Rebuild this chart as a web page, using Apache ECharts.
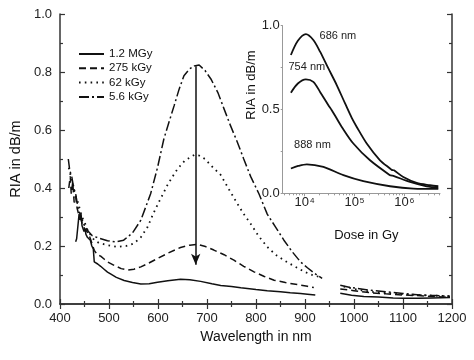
<!DOCTYPE html>
<html><head><meta charset="utf-8">
<script src="https://cdn.jsdelivr.net/npm/echarts@6/dist/echarts.min.js"></script>
<style>html,body{margin:0;padding:0;background:#fff}#c{width:474px;height:360px}</style>
</head><body><div id="c"></div>
<script>
// ---- Main chart data (wavelength in nm, RIA in dB/m); null = gap in spectrum ----
var seriesNames = ['1.2 MGy', '275 kGy', '62 kGy', '5.6 kGy'];

var wl_12MGy = [432,434,437,439,441,443,445,447,449,451,453,456,459,462,465,468,470,473,477,483,490,497,504,515,531,548,565,582,599,620,646,665,687,710,728,750,769,800,823,850,870,891,905,921,945,972,995,1020,1050,1080,1101,1130,1160,1196];
var ria_12MGy = [0.215,0.225,0.23,0.31,0.29,0.31,0.27,0.26,0.25,0.26,0.24,0.23,0.225,0.22,0.2,0.19,0.145,0.14,0.138,0.13,0.12,0.11,0.103,0.092,0.081,0.074,0.069,0.07,0.075,0.08,0.085,0.084,0.078,0.07,0.064,0.06,0.056,0.05,0.046,0.042,0.039,0.036,0.034,0.031,null,0.037,0.03,0.026,0.024,0.021,0.02,0.02,0.021,0.022];

var wl_275kGy = [418,421,423,426,429,432,435,438,441,445,450,455,460,465,470,476,483,490,497,511,525,538,551,565,580,599,620,646,665,681,697,714,735,755,775,796,817,837,860,891,905,918,945,972,1000,1033,1065,1101,1130,1160,1196];
var ria_275kGy = [0.40,0.44,0.38,0.42,0.35,0.37,0.33,0.31,0.30,0.28,0.26,0.25,0.235,0.21,0.185,0.17,0.165,0.155,0.145,0.133,0.122,0.117,0.12,0.128,0.14,0.157,0.175,0.195,0.203,0.206,0.198,0.186,0.17,0.151,0.13,0.111,0.095,0.082,0.074,0.065,0.061,0.057,null,0.052,0.046,0.039,0.035,0.031,0.029,0.026,0.023];

var wl_62kGy = [418,422,426,430,435,440,445,450,455,460,470,480,497,517,535,551,565,579,590,602,619,630,640,655,674,684,696,708,728,745,762,775,789,805,823,840,857,870,884,900,915,932,950,979,1005,1033,1065,1101,1130,1160,1196];
var ria_62kGy = [0.47,0.44,0.42,0.38,0.36,0.33,0.30,0.283,0.26,0.245,0.22,0.21,0.203,0.197,0.2,0.209,0.23,0.266,0.31,0.352,0.409,0.44,0.466,0.495,0.514,0.512,0.5,0.478,0.445,0.395,0.346,0.31,0.277,0.235,0.197,0.17,0.151,0.138,0.125,0.11,0.1,0.092,null,0.06,0.05,0.042,0.038,0.034,0.031,0.029,0.027];

var wl_56kGy = [417,420,424,428,432,437,443,450,458,466,480,497,514,530,548,565,585,599,612,623,633,643,653,664,674,684,696,708,722,735,748,762,775,789,806,823,840,857,874,891,905,920,935,952,972,990,1006,1035,1067,1100,1135,1165,1196];
var ria_56kGy = [0.50,0.46,0.44,0.40,0.38,0.33,0.30,0.27,0.25,0.235,0.227,0.218,0.214,0.22,0.245,0.289,0.38,0.47,0.569,0.63,0.684,0.74,0.787,0.81,0.821,0.824,0.805,0.776,0.73,0.672,0.615,0.558,0.5,0.44,0.38,0.31,0.265,0.22,0.18,0.145,0.125,0.105,0.088,null,0.065,0.058,0.054,0.047,0.042,0.036,0.031,0.029,0.027];

// Arrow marking the decrease of RIA with dose (from 5.6 kGy peak down)
var arrowWl = 677;
var arrowFrom = 0.82;
var arrowTo = 0.135;

// ---- Inset data (dose in Gy, RIA in dB/m) ----
var insetNames = ['686 nm', '754 nm', '888 nm'];
var dose_686 = [5370,7400,10700,15100,20600,30200,44400,65200,88700,111700,177000,326500,517600,560000,622000,955000,1770000,3270000,4790000];
var ria_686  = [0.825,0.91,0.95,0.915,0.845,0.745,0.646,0.536,0.45,0.396,0.297,0.197,0.148,0.14,0.137,0.097,0.062,0.048,0.042];
var dose_754 = [5370,7400,10700,15100,20600,30200,35300,44400,56000,95500,206000,517600,560000,622000,1300000,2800000,4790000];
var ria_754  = [0.60,0.655,0.68,0.665,0.605,0.526,0.496,0.446,0.396,0.297,0.197,0.108,0.106,0.103,0.068,0.042,0.034];
var dose_888 = [5370,7500,11200,24000,60300,151000,517600,1510000,4790000];
var ria_888  = [0.148,0.163,0.173,0.157,0.108,0.072,0.042,0.028,0.026];
// label anchor positions (dose, RIA) for inset curve labels
var insetLabelDose = [46800, 11200, 14500];
var insetLabelRia  = [0.94, 0.753, 0.287];

var insetDecades = [4, 5, 6];

function pairs(xs, ys) { return xs.map(function (x, i) { return [x, ys[i]]; }); }
function logPairs(xs, ys) { return xs.map(function (x, i) { return [Math.log10(x), ys[i]]; }); }

var insetMin = Math.log10(3680), insetMax = Math.log10(5180000);
var minorVals = [];
for (var d = 3; d <= 6; d++) for (var k = 2; k <= 9; k++) {
  var v = Math.log10(k * Math.pow(10, d));
  if (v > insetMin && v < insetMax) minorVals.push(v);
}

var ink = '#111';
var font = 'Liberation Sans, Arial, sans-serif';
var mainAxisLine = {show: true, lineStyle: {color: '#333', width: 1.5}};

var mainSeriesData = [pairs(wl_12MGy, ria_12MGy), pairs(wl_275kGy, ria_275kGy), pairs(wl_62kGy, ria_62kGy), pairs(wl_56kGy, ria_56kGy)];
var dashes = ['solid', [7, 4], [1.6, 4.2], [10, 3, 2, 3]];

var series = mainSeriesData.map(function (d, i) {
  var s = {
    name: seriesNames[i], type: 'line', xAxisIndex: 0, yAxisIndex: 0, data: d,
    symbol: 'none', connectNulls: false, silent: true,
    lineStyle: {color: ink, width: i === 2 ? 1.8 : 1.5, type: dashes[i]},
    itemStyle: {color: ink}
  };
  if (i === 3) {
    s.markLine = {
      silent: true, symbol: ['none', 'arrow'], symbolSize: [7, 11],
      label: {show: false},
      lineStyle: {color: ink, width: 1.5, type: 'solid'},
      data: [[{coord: [arrowWl, arrowFrom]}, {coord: [arrowWl, arrowTo]}]]
    };
  }
  return s;
});

var insetData = [logPairs(dose_686, ria_686), logPairs(dose_754, ria_754), logPairs(dose_888, ria_888)];
insetData.forEach(function (d, i) {
  series.push({
    name: insetNames[i], type: 'line', xAxisIndex: 2, yAxisIndex: 2, data: d,
    symbol: 'none', smooth: 0.3, silent: true,
    lineStyle: {color: ink, width: 1.8},
    markPoint: {
      symbol: 'circle', symbolSize: 0, silent: true,
      label: {show: true, position: 'inside', formatter: insetNames[i], color: '#222', fontSize: 11, fontFamily: font},
      data: [{coord: [Math.log10(insetLabelDose[i]), insetLabelRia[i]]}]
    }
  });
});

var chart = echarts.init(document.getElementById('c'), null, {renderer: 'canvas'});
chart.setOption({
  animation: false,
  backgroundColor: '#fff',
  textStyle: {fontFamily: font},
  grid: [
    {left: 59, right: 22, top: 14, bottom: 56},
    {left: 282.7, width: 157.3, top: 25.7, height: 167.6}
  ],
  legend: {
    data: seriesNames, orient: 'vertical', left: 78, top: 48, padding: 0,
    itemWidth: 25, itemHeight: 12, itemGap: 2.3,
    textStyle: {fontSize: 11.5, color: '#111', fontFamily: font},
    itemStyle: {opacity: 0}, selectedMode: false
  },
  xAxis: [
    {type: 'value', gridIndex: 0, position: 'bottom', min: 400, max: 1200, interval: 100,
      name: 'Wavelength in nm', nameLocation: 'middle', nameGap: 24,
      nameTextStyle: {fontSize: 14, color: '#111', fontFamily: font},
      axisLine: mainAxisLine, splitLine: {show: false},
      axisTick: {inside: true, length: 5, lineStyle: {color: '#333', width: 1.2}},
      minorTick: {show: true, splitNumber: 2, length: 3, lineStyle: {color: '#333', width: 1.2}},
      axisLabel: {fontSize: 13, color: '#222', margin: 8, fontFamily: font,
        formatter: function (v) { return String(Math.round(v)); }}},
    {type: 'value', gridIndex: 0, position: 'top', min: 400, max: 1200, interval: 100,
      axisLine: mainAxisLine, splitLine: {show: false},
      axisTick: {inside: true, length: 5, lineStyle: {color: '#333', width: 1.2}},
      minorTick: {show: true, splitNumber: 2, length: 3, lineStyle: {color: '#333', width: 1.2}},
      axisLabel: {show: false}},
    {type: 'value', gridIndex: 1, position: 'bottom', min: insetMin, max: insetMax,
      name: 'Dose in Gy', nameLocation: 'middle', nameGap: 36,
      nameTextStyle: {fontSize: 13, color: '#111', fontFamily: font, padding: [0, 0, 0, 10]},
      axisLine: {show: true, lineStyle: {color: '#999', width: 1}}, splitLine: {show: false},
      axisTick: {show: true, customValues: insetDecades, length: 3, lineStyle: {color: '#999'}},
      axisLabel: {customValues: insetDecades, margin: 3, color: '#222', fontFamily: font,
        formatter: function (v) { return '{b|10}{s|' + Math.round(v) + '}'; },
        rich: {b: {fontSize: 13, fontFamily: font, color: '#222'},
               s: {fontSize: 8, fontFamily: font, color: '#222', verticalAlign: 'top', padding: [0, 0, 0, 1]}}}},
    {type: 'value', gridIndex: 1, position: 'bottom', min: insetMin, max: insetMax,
      axisLine: {show: false}, splitLine: {show: false},
      axisTick: {show: true, customValues: minorVals, length: 2, lineStyle: {color: '#999'}},
      axisLabel: {show: false}}
  ],
  yAxis: [
    {type: 'value', gridIndex: 0, position: 'left', min: 0, max: 1, interval: 0.2,
      name: 'RIA in dB/m', nameLocation: 'middle', nameGap: 36,
      nameTextStyle: {fontSize: 14.5, color: '#111', fontFamily: font},
      axisLine: mainAxisLine, splitLine: {show: false},
      axisTick: {inside: true, length: 5, lineStyle: {color: '#333', width: 1.2}},
      minorTick: {show: true, splitNumber: 2, length: 3, lineStyle: {color: '#333', width: 1.2}},
      axisLabel: {fontSize: 13, color: '#222', margin: 8, fontFamily: font,
        formatter: function (v) { return v.toFixed(1); }}},
    {type: 'value', gridIndex: 0, position: 'right', min: 0, max: 1, interval: 0.2,
      axisLine: mainAxisLine, splitLine: {show: false},
      axisTick: {inside: true, length: 5, lineStyle: {color: '#333', width: 1.2}},
      minorTick: {show: true, splitNumber: 2, length: 3, lineStyle: {color: '#333', width: 1.2}},
      axisLabel: {show: false}},
    {type: 'value', gridIndex: 1, position: 'left', min: 0, max: 1, interval: 0.5,
      name: 'RIA in dB/m', nameLocation: 'middle', nameGap: 24,
      nameTextStyle: {fontSize: 13, color: '#111', fontFamily: font, padding: [0, 0, 0, 49]},
      axisLine: {show: true, lineStyle: {color: '#999', width: 1}}, splitLine: {show: false},
      axisTick: {length: 2, lineStyle: {color: '#999'}},
      minorTick: {show: true, splitNumber: 2, length: 2, lineStyle: {color: '#999'}},
      axisLabel: {fontSize: 13, color: '#222', margin: 3, fontFamily: font,
        formatter: function (v) { return v.toFixed(1); }}}
  ],
  series: series
});
</script>
</body></html>
